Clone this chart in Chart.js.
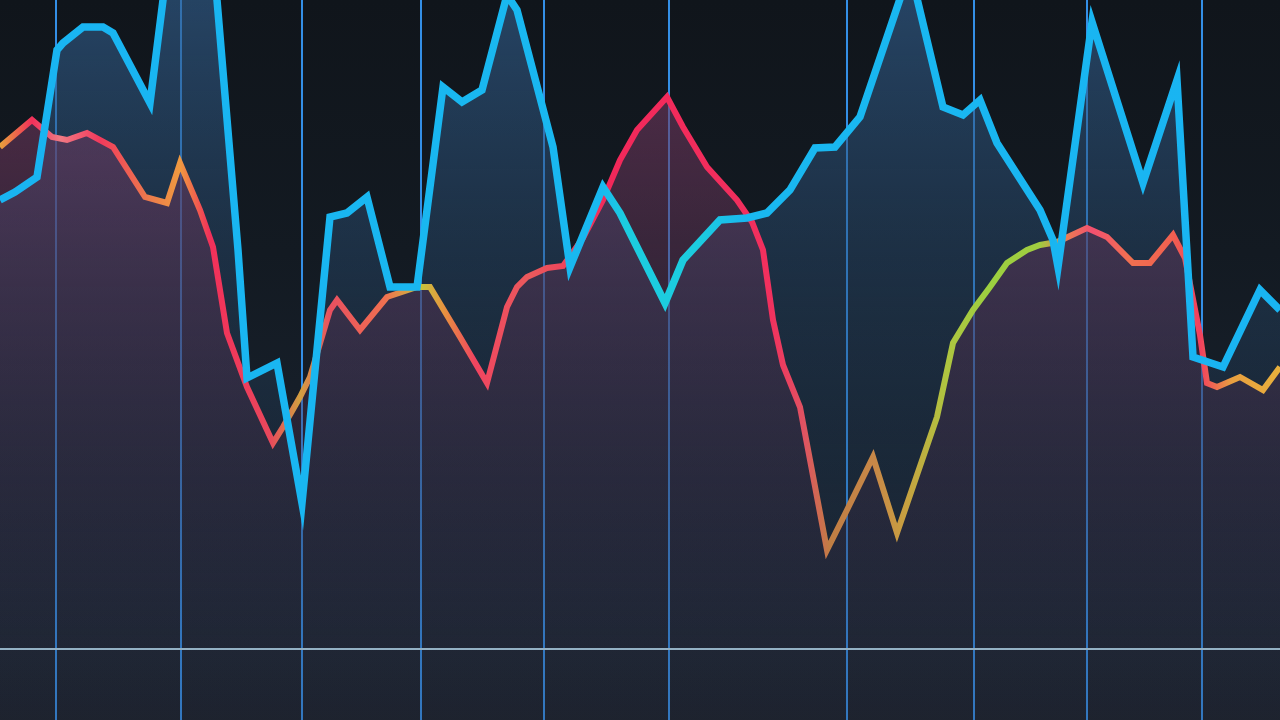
<!DOCTYPE html>
<html>
<head>
<meta charset="utf-8">
<script src="https://cdn.jsdelivr.net/npm/chart.js@4/dist/chart.umd.min.js"></script>
<style>
  html, body { margin: 0; padding: 0; }
  body {
    width: 1280px; height: 720px; overflow: hidden;
    background: linear-gradient(to bottom, #10151b 0%, #131a22 35%, #1a2431 80%, #1b2531 90%, #182029 100%);
  }
  canvas { display: block; }
</style>
</head>
<body>
<canvas id="chart" width="1280" height="720"></canvas>
<script>
// time positions of the vertical guide lines
const gridX = [56, 181, 302, 421, 544, 669, 847, 974, 1087, 1202];

// blue series
const blueX = [0, 15, 37, 57, 63, 83, 103, 113, 150, 163, 170, 210, 217, 238, 247, 277, 302, 330, 347, 367, 390, 417, 443, 462, 482, 507, 517, 553, 570, 603, 620, 665, 683, 720, 747, 767, 790, 815, 835, 860, 903, 915, 943, 963, 980, 997, 1040, 1053, 1058, 1092, 1143, 1177, 1193, 1223, 1260, 1280];
const blueY = [449, 457, 472, 599, 606, 622, 622, 616, 546, 649, 700, 700, 649, 399, 271, 286, 146, 432, 436, 452, 362, 362, 562, 547, 559, 654, 639, 502, 382, 462, 436, 346, 389, 429, 431, 436, 459, 501, 502, 532, 659, 659, 542, 534, 549, 506, 439, 409, 382, 627, 466, 569, 292, 282, 359, 339];

// red series
const redX = [0, 32, 52, 67, 87, 113, 145, 167, 180, 200, 213, 227, 247, 273, 283, 300, 310, 330, 337, 360, 387, 417, 430, 460, 487, 507, 517, 527, 547, 563, 583, 603, 620, 637, 667, 683, 707, 737, 752, 763, 773, 783, 800, 827, 847, 873, 897, 937, 953, 973, 990, 1007, 1027, 1040, 1057, 1087, 1107, 1133, 1150, 1173, 1185, 1200, 1207, 1217, 1240, 1263, 1280];
const redY = [502, 529, 512, 509, 516, 502, 452, 446, 486, 439, 402, 316, 262, 206, 222, 252, 272, 339, 349, 319, 352, 362, 362, 312, 266, 342, 362, 372, 381, 383, 411, 449, 489, 519, 552, 522, 482, 449, 427, 399, 329, 284, 242, 99, 139, 192, 116, 232, 306, 339, 362, 386, 399, 404, 407, 421, 412, 386, 386, 414, 391, 314, 266, 262, 272, 259, 282];

const toPoints = (xs, ys) => xs.map((x, i) => ({ x: x, y: ys[i] }));

// colour stops of the red line along the time axis
const redStops = [
  [0, "#e8a03c"], [32, "#f2305a"], [60, "#f07a84"], [100, "#f23a5c"], [150, "#ec7c4c"],
  [180, "#f09a40"], [210, "#f2305a"], [270, "#e8485c"], [300, "#d2a040"], [330, "#e85060"],
  [385, "#f07050"], [422, "#c8c43c"], [445, "#e89040"], [475, "#f04460"], [530, "#ea5a5c"],
  [610, "#f2285a"], [770, "#f2305e"], [805, "#e05462"], [830, "#c07e44"], [875, "#c88848"],
  [905, "#c8a040"], [945, "#b0c440"], [990, "#9cd040"], [1040, "#a0cc40"], [1065, "#ec8050"],
  [1092, "#f25070"], [1130, "#f07050"], [1172, "#f06050"], [1200, "#f2405e"], [1232, "#e8a040"],
  [1280, "#e8b03c"]
];
const blueStops = [
  [0, "#19b4f2"], [600, "#19b8f0"], [625, "#1cccdf"], [700, "#1cccdf"], [745, "#19b8f0"], [1280, "#19b4f2"]
];

function hGradient(chart, stops) {
  const { ctx, chartArea, scales } = chart;
  if (!chartArea) return null;
  const g = ctx.createLinearGradient(chartArea.left, 0, chartArea.right, 0);
  const w = chartArea.right - chartArea.left;
  stops.forEach(([x, c]) => g.addColorStop((scales.x.getPixelForValue(x) - chartArea.left) / w, c));
  return g;
}

function vGradient(chart, top, bottom) {
  const { ctx, chartArea } = chart;
  if (!chartArea) return null;
  const g = ctx.createLinearGradient(0, chartArea.top, 0, chartArea.bottom);
  g.addColorStop(0, top);
  g.addColorStop(0.9, bottom);
  g.addColorStop(1, bottom);
  return g;
}

new Chart(document.getElementById("chart"), {
  type: "line",
  data: {
    datasets: [
      {
        // blue area only, drawn first
        data: toPoints(blueX, blueY),
        borderColor: "rgba(0,0,0,0)",
        borderWidth: 0,
        pointRadius: 0,
        fill: "start",
        backgroundColor: (c) => vGradient(c.chart, "rgba(50,94,140,0.64)", "rgba(30,50,72,0.12)"),
        order: 2,
      },
      {
        data: toPoints(redX, redY),
        borderColor: (c) => hGradient(c.chart, redStops),
        borderWidth: 6,
        pointRadius: 0,
        fill: "start",
        backgroundColor: (c) => vGradient(c.chart, "rgba(124,60,102,0.68)", "rgba(60,40,62,0.14)"),
        order: 1,
      },
      {
        data: toPoints(blueX, blueY),
        borderColor: (c) => hGradient(c.chart, blueStops),
        borderWidth: 7.5,
        pointRadius: 0,
        fill: false,
        order: 0,
      },
    ],
  },
  options: {
    responsive: false,
    animation: false,
    devicePixelRatio: 1,
    layout: { padding: 0 },
    plugins: { legend: { display: false }, tooltip: { enabled: false } },
    elements: { line: { tension: 0, borderJoinStyle: "miter", borderCapStyle: "butt" } },
    scales: {
      x: {
        type: "linear",
        min: 0,
        max: 1280,
        z: 1,
        afterBuildTicks: (axis) => { axis.ticks = gridX.map((v) => ({ value: v })); },
        ticks: { display: false },
        border: { display: false },
        grid: { color: "#348fe6", lineWidth: 2, drawTicks: false },
      },
      y: {
        min: -71,
        max: 649,
        z: 1,
        afterBuildTicks: (axis) => { axis.ticks = [{ value: 0 }]; },
        ticks: { display: false },
        border: { display: false },
        grid: { color: "#b4dcee", lineWidth: 2, drawTicks: false },
      },
    },
  },
});
</script>
</body>
</html>
